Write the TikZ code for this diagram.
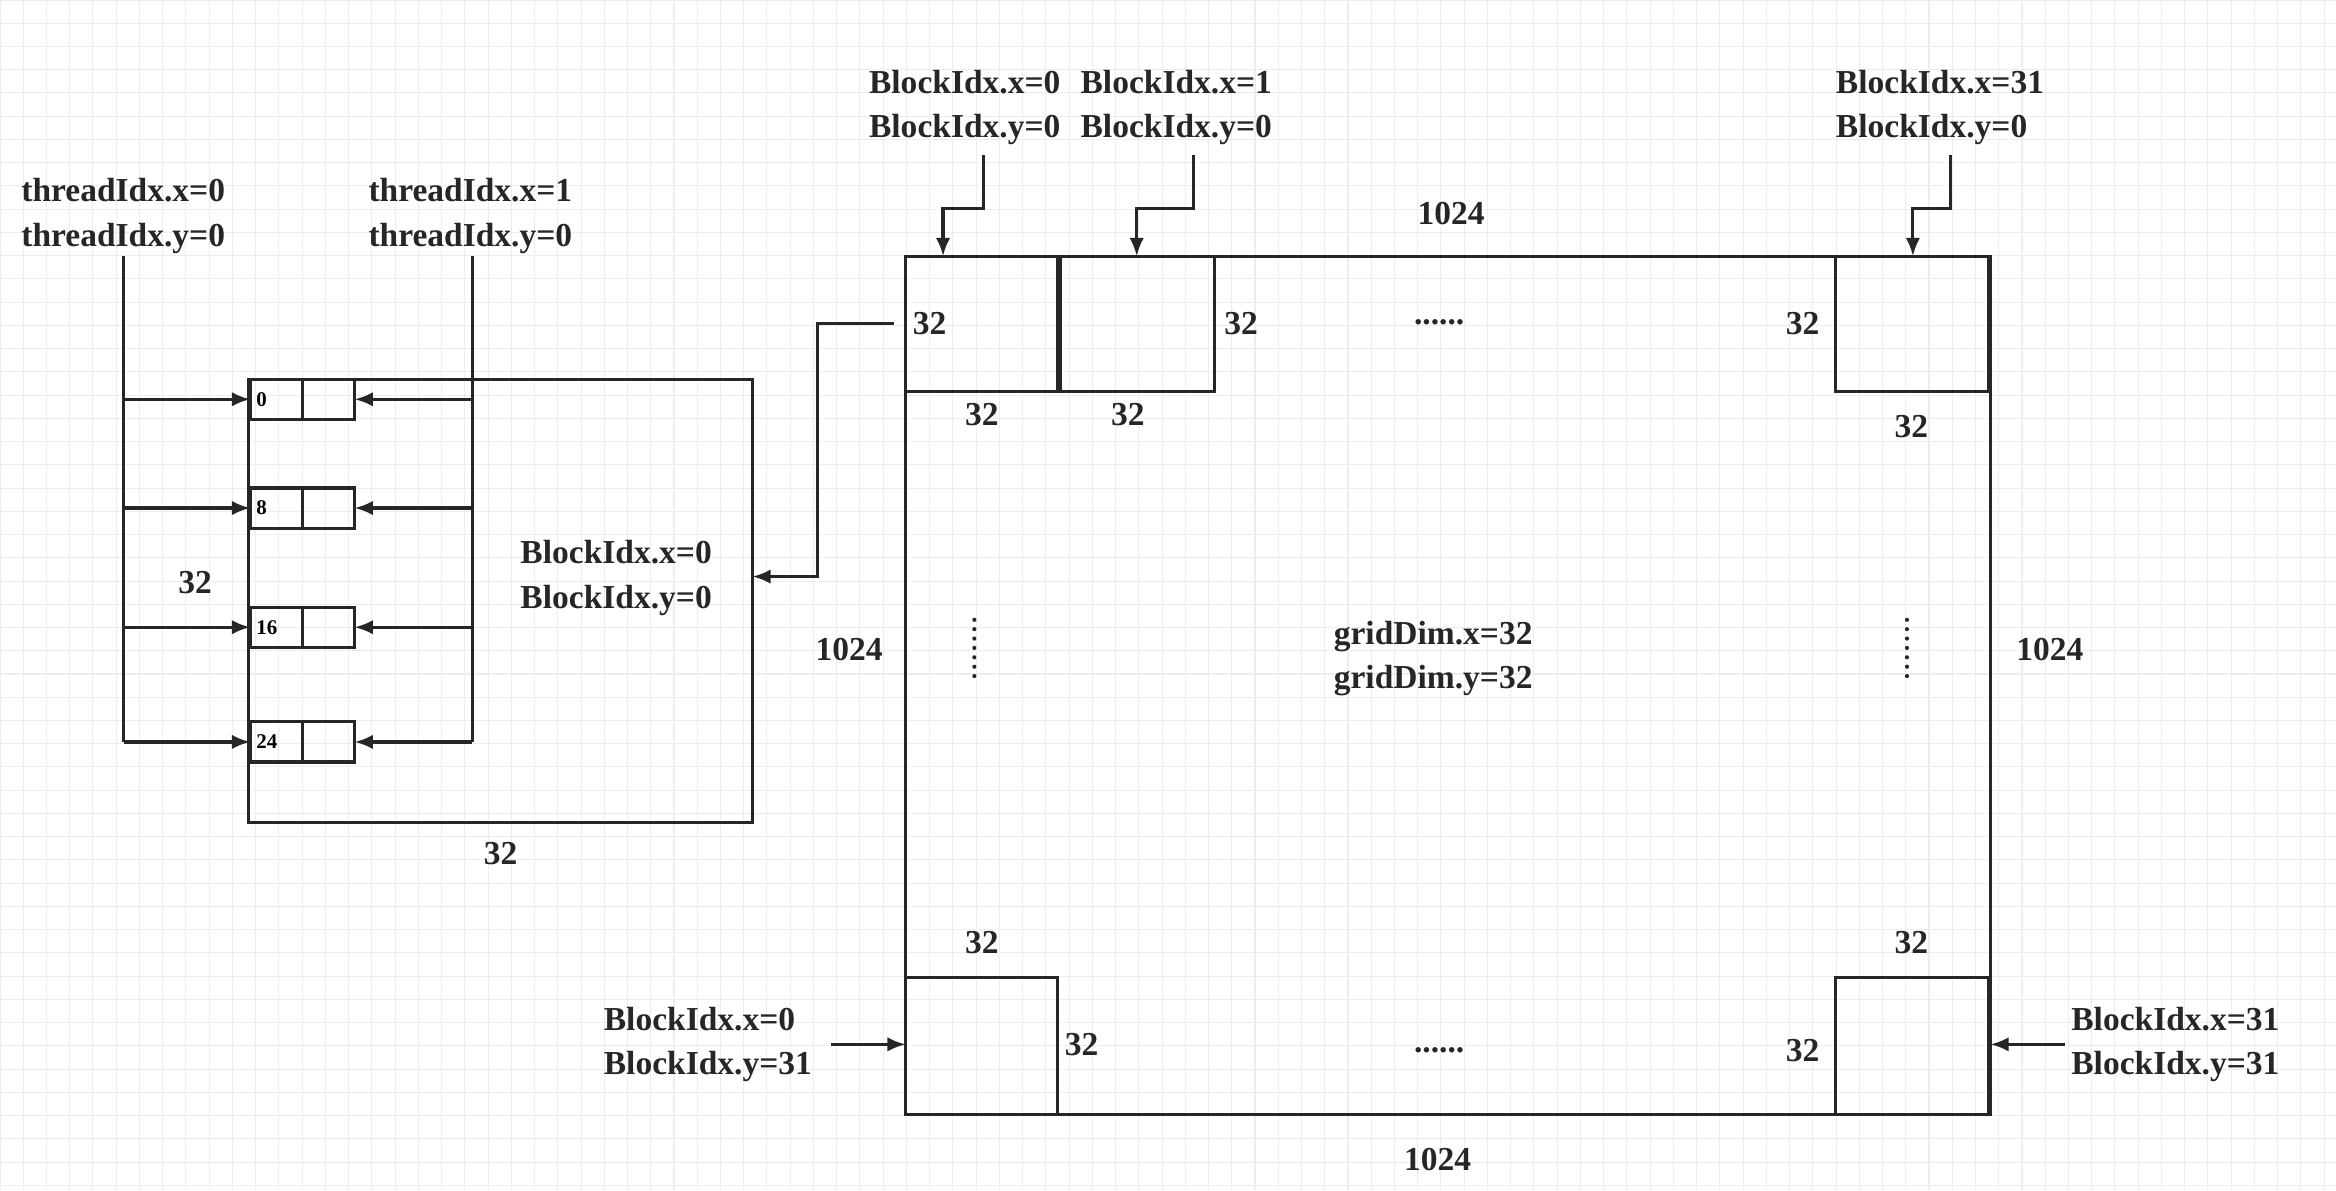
\documentclass[tikz,border=0pt]{standalone}
\usepackage{fontspec}
\usetikzlibrary{arrows.meta}
\setmainfont{Liberation Serif}
\begin{document}
\begin{tikzpicture}[x=0.02cm,y=-0.02cm,
  ln/.style={line width=1.2pt,draw=black!85},
  ar/.style={line width=1.2pt,draw=black!85,-{Latex[length=7pt,width=5.5pt]}},
  lb/.style={font=\bfseries\fontsize{12.8}{15}\selectfont,text=black!85,inner sep=0pt},
  tl/.style={font=\bfseries\fontsize{12.8}{15}\selectfont,text=black!85,inner sep=0pt,align=left,anchor=west},
  cell/.style={draw=black!85,line width=1.2pt,minimum width=0.7cm,minimum height=0.54cm,inner sep=0pt,outer sep=0pt},
  cn/.style={font=\bfseries\fontsize{8}{9}\selectfont}]
\fill[white] (0,0) rectangle (1568,799);
\useasboundingbox (0,0) rectangle (1568,799);
\foreach \i in {0,...,100}{\draw[black!7,line width=0.4pt] (\i*15.6,0) -- (\i*15.6,799);}
\foreach \i in {0,...,51}{\draw[black!7,line width=0.4pt] (0,\i*15.6) -- (1568,\i*15.6);}
% left block
\draw[ln] (167,255) rectangle (505,552);
\foreach \n/\y/\t in {r0/268/0,r1/341/8,r2/421/16,r3/498/24}{
  \node[cell,anchor=west] (\n a) at (168,\y) {};
  \node[cell,anchor=west] (\n b) at (203,\y) {};
  \node[cn,anchor=west,inner sep=1pt] at (170,\y) {\t};
  \coordinate (\n L) at (83,\y);
  \coordinate (\n R) at (317,\y);
  \draw[ar] (\n L) -- (\n a.west);
  \draw[ar] (\n R) -- (\n b.east);
}
\coordinate (lt) at (83,172); \coordinate (rt) at (317,172);
\draw[ln] (lt) -- (r3L); \draw[ln] (rt) -- (r3R);
\node[tl] at (14,145) {threadIdx.x=0\\[2pt]threadIdx.y=0};
\node[tl] at (247,145) {threadIdx.x=1\\[2pt]threadIdx.y=0};
\node[lb] at (131,391) {32};
\node[lb] at (336,573) {32};
\node[tl] (lbk) at (349,388) {BlockIdx.x=0\\[2pt]BlockIdx.y=0};
% grid
\draw[ln] (608,172) rectangle (1336,748);
\draw[ln] (608,172) rectangle (710,263);
\draw[ln] (712,172) rectangle (815,263);
\draw[ln] (1232,172) rectangle (1335,263);
\draw[ln] (608,656) rectangle (710,748);
\draw[ln] (1232,656) rectangle (1335,748);
\coordinate (a1) at (660,104); \coordinate (a2) at (801,104); \coordinate (a3) at (1309,104);
\coordinate (t1) at (633,172); \coordinate (t2) at (763,172); \coordinate (t3) at (1284,172);
\draw[ar] (a1) -- (660,140) -- (633,140) -- (t1);
\draw[ar] (a2) -- (801,140) -- (763,140) -- (t2);
\draw[ar] (a3) -- (1309,140) -- (1284,140) -- (t3);
\node[tl] at (583,72) {BlockIdx.x=0\\[2pt]BlockIdx.y=0};
\node[tl] at (725,72) {BlockIdx.x=1\\[2pt]BlockIdx.y=0};
\node[tl] at (1232,72) {BlockIdx.x=31\\[2pt]BlockIdx.y=0};
\coordinate (s0) at (600,217); \coordinate (lbe) at (505,387);
\draw[ar] (s0) -- (549,217) -- (549,387) -- (lbe);
\coordinate (q1) at (558,701); \coordinate (q1e) at (608,701);
\coordinate (q2) at (1386,701); \coordinate (q2e) at (1336,701);
\draw[ar] (q1) -- (q1e); \draw[ar] (q2) -- (q2e);
\node[tl] at (405,701) {BlockIdx.x=0\\[2pt]BlockIdx.y=31};
\node[tl] at (1390,701) {BlockIdx.x=31\\[2pt]BlockIdx.y=31};
\node[lb] at (974,143) {1024};
\node[lb] at (570,436) {1024};
\node[lb] at (1376,436) {1024};
\node[lb] at (965,778) {1024};
\node[lb] at (966,216) {......};
\node[lb] at (966,705) {......};
\foreach \x in {654,1280}{\foreach \k in {0,...,6}{\fill[black!85] (\x,416+\k*6.3) circle (1.4);}}
\node[tl,align=center,anchor=center] at (962,442) {gridDim.x=32\\[2pt]gridDim.y=32};
\foreach \x/\y in {624/217,659/278,833/217,757/278,1210/217,1283/286,659/633,726/701,1283/633,1210/705}{\node[lb] at (\x,\y) {32};}
\end{tikzpicture}
\end{document}
